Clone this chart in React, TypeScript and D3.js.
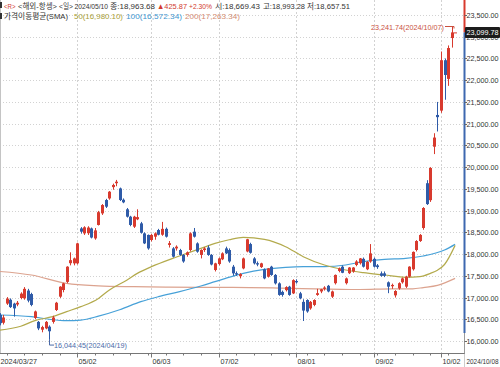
import { useEffect, useRef } from 'react';
import * as d3 from 'd3';

// daily candles, 2024/03/27 .. 2024/10/08 (one bar per trading day)
const opens = [
  16600, 16420, 16860, 16950, 16860, 16840, 16990, 16980, 17160, 17080,
  16530, 16440, 16260, 16290, 16330, 16440, 16713, 17020, 17173, 17360,
  17790, 17786, 17786, 18590, 18476, 18480, 18590, 18360, 18669.43, 18936,
  19243, 19280, 19540, 19630, 19510, 19250, 19030, 18860, 18630, 18800,
  18706, 18476, 18440, 18323, 18400, 18553, 18445, 18580, 18210, 18130,
  18130, 18093, 17980, 17980, 18093, 18515, 18246, 17980, 18093, 18150,
  17980, 17633, 17770, 17880, 18130, 18093, 17710, 17560, 17490, 17670,
  18060, 18230, 17900, 17790, 17700, 17650, 17480, 17710, 17520, 17326,
  17130, 17170, 17250, 17096, 17380, 17096, 16900, 16943, 16750, 16830,
  17060, 17140, 17200, 17270, 17020, 17330, 17610, 17710, 17330, 17560,
  17600, 17750, 17790, 17890, 17650, 17830, 17890, 17740, 17556, 17556,
  17350, 17260, 17050, 17210, 17350, 17250, 17480, 17650, 18093, 18300,
  18600, 19630, 19240, 20470, 21200, 21300, 22460, 22030, 22970, 23099.78,
];
const highs = [
  16640, 16600, 17010, 16980, 16880, 16920, 17120, 17240, 17200, 17110,
  16700, 16460, 16350, 16460, 16360, 16580, 16900, 17260, 17340, 17720,
  18040, 17920, 18260, 18620, 18640, 18640, 18610, 18600, 18993.28, 19150,
  19270, 19450, 19620, 19706, 19530, 19280, 19060, 18880, 18880, 19030,
  18740, 18500, 18450, 18460, 18500, 18580, 18740, 18610, 18300, 18160,
  18200, 18120, 18000, 18060, 18500, 18600, 18270, 18110, 18160, 18200,
  18000, 17800, 17920, 18040, 18170, 18130, 17750, 17600, 17560, 17920,
  18350, 18260, 17930, 17830, 17800, 17670, 17680, 17730, 17540, 17350,
  17160, 17260, 17270, 17420, 17420, 17130, 16960, 16960, 16920, 16960,
  17200, 17200, 17260, 17290, 17160, 17530, 17690, 17740, 17460, 17700,
  17700, 17860, 17910, 17920, 17840, 18230, 17920, 17770, 17600, 17600,
  17370, 17320, 17170, 17350, 17460, 17500, 17720, 18060, 18320, 18460,
  19080, 19700, 20000, 20780, 21500, 22660, 22500, 22800, 23241.74, 23099.78,
];
const lows = [
  16360, 16380, 16830, 16760, 16560, 16800, 16960, 16950, 16890, 16800,
  16500, 16250, 16200, 16270, 16044.45, 16400, 16690, 16990, 17120, 17330,
  17740, 17740, 17760, 18470, 18440, 18440, 18360, 18330, 18657.51, 18900,
  19060, 19250, 19480, 19560, 19220, 19170, 18840, 18640, 18600, 18780,
  18470, 18230, 18100, 18290, 18330, 18430, 18420, 18380, 18150, 17920,
  18080, 17960, 17800, 17940, 18060, 18380, 18030, 17900, 18050, 17960,
  17740, 17600, 17740, 17860, 18000, 17800, 17500, 17500, 17440, 17650,
  18040, 18010, 17760, 17720, 17680, 17420, 17460, 17500, 17300, 17040,
  17020, 17140, 17040, 17080, 17320, 16960, 16460, 16650, 16720, 16800,
  17040, 17100, 17160, 17120, 16990, 17300, 17580, 17560, 17300, 17540,
  17570, 17720, 17760, 17690, 17630, 17800, 17690, 17660, 17480, 17470,
  17100, 17200, 17000, 17180, 17320, 17220, 17460, 17620, 18060, 18280,
  18560, 19130, 19200, 20300, 20820, 21250, 21550, 21870, 22750, 23099.78,
];
const closes = [
  16410, 16541, 16975, 16780, 16750, 16880, 17090, 17200, 16930, 16830,
  16680, 16290, 16320, 16440, 16224, 16540, 16880, 17250, 17326, 17710,
  17860, 17900, 18246, 18515, 18616, 18610, 18380, 18545, 18963.68, 19128,
  19090, 19435, 19590, 19665, 19243, 19190, 18860, 18670, 18860, 18850,
  18490, 18246, 18130, 18440, 18476, 18445, 18580, 18400, 18250, 17940,
  18170, 17980, 17830, 18040, 18476, 18400, 18055, 18093, 18130, 17980,
  17760, 17786, 17900, 18016, 18016, 17830, 17556, 17530, 17540, 17900,
  18340, 18030, 17786, 17760, 17786, 17440, 17670, 17520, 17326, 17060,
  17060, 17240, 17060, 17400, 17350, 16980, 16700, 16680, 16900, 16943,
  17100, 17190, 17230, 17140, 17140, 17520, 17670, 17570, 17440, 17690,
  17690, 17830, 17900, 17710, 17820, 18016, 17710, 17700, 17500, 17500,
  17250, 17290, 17150, 17330, 17440, 17480, 17710, 18050, 18300, 18440,
  19060, 19150, 19980, 20680, 21150, 22460, 22120, 22740, 23099.78, 23099.78,
];

// moving averages (bar index, value)
const ma50Idx = [0, 6, 10, 15, 19, 23, 28, 31, 36, 39, 43, 49, 53, 57, 61, 65, 69, 75, 81, 86, 92, 98, 103, 109, 115, 119, 122, 124, 126, 129];
const ma50Val = [16250, 16340, 16470, 16560, 16675, 16790, 16980, 17170, 17400, 17556, 17710, 17900, 18016, 18130, 18246, 18330, 18384, 18338, 18170, 17940, 17748, 17633, 17572, 17518, 17465, 17480, 17556, 17630, 17760, 18200];
const ma100Idx = [0, 9, 14, 19, 23, 28, 34, 40, 45, 51, 57, 61, 64, 69, 75, 81, 86, 92, 98, 103, 109, 115, 120, 126, 129];
const ma100Val = [16598, 16560, 16500, 16467, 16480, 16572, 16720, 16905, 17020, 17135, 17265, 17365, 17440, 17556, 17648, 17694, 17710, 17710, 17748, 17825, 17878, 17900, 17955, 18093, 18223];
const ma200Idx = [0, 9, 19, 28, 38, 47, 57, 66, 83, 102, 111, 117, 120, 124, 129];
const ma200Val = [17600, 17518, 17326, 17270, 17250, 17240, 17234, 17234, 17211, 17185, 17200, 17200, 17230, 17280, 17440];

const priceTicks = d3.range(16000, 23501, 500);
const monthTickIdx = [22, 43, 62, 84, 106, 125];
const monthTickLabels = ['05/02', '06/03', '07/02', '08/01', '09/02', '10/02'];
const firstDate = '2024/03/27';
const lastDate = '2024/10/08';
const highLabel = '23,241.74(2024/10/07)';
const lowLabel = '16,044.45(2024/04/19)';

const FONT = "'Liberation Sans', 'Noto Sans CJK KR', sans-serif";
const UP = '#d83a2e';
const DOWN = '#2f5ba8';

export default function App() {
  const svgRef = useRef<SVGSVGElement>(null);

  useEffect(() => {
    if (!svgRef.current) return;

    const width = 500;
    const height = 367;
    const axisX = 464.5;
    const axisY = 353.5;
    const n = closes.length;

    const svg = d3.select(svgRef.current);
    svg.selectAll('*').remove();
    svg.attr('width', width).attr('height', height).style('font-family', FONT);

    const x = d3.scaleLinear().domain([0, n - 1]).range([-0.4, 455.1]);
    const y = d3.scaleLinear().domain([16000, 23500]).range([341, 15]);

    svg.append('rect').attr('width', width).attr('height', height).attr('fill', '#fff');

    // grid
    svg.append('g')
      .selectAll('line')
      .data(priceTicks)
      .join('line')
      .attr('x1', 0)
      .attr('x2', axisX)
      .attr('y1', d => Math.round(y(d)) + 0.5)
      .attr('y2', d => Math.round(y(d)) + 0.5)
      .attr('stroke', '#d2d2d2')
      .attr('stroke-dasharray', '1,2');

    svg.append('g')
      .selectAll('line')
      .data(monthTickIdx)
      .join('line')
      .attr('x1', d => Math.round(x(d)) + 0.5)
      .attr('x2', d => Math.round(x(d)) + 0.5)
      .attr('y1', 0)
      .attr('y2', axisY)
      .attr('stroke', '#d2d2d2')
      .attr('stroke-dasharray', '2,2');

    svg.append('line')
      .attr('x1', 0.5).attr('x2', 0.5).attr('y1', 0).attr('y2', axisY)
      .attr('stroke', '#c4c4c4');

    // moving averages
    const maLine = (idx: number[], vals: number[], color: string) => {
      const line = d3.line<number>()
        .x((_, i) => x(idx[i]))
        .y(d => y(d))
        .curve(d3.curveMonotoneX);
      svg.append('path')
        .datum(vals)
        .attr('fill', 'none')
        .attr('stroke', color)
        .attr('stroke-width', 1.2)
        .attr('d', line);
    };
    maLine(ma200Idx, ma200Val, '#dca38f');
    maLine(ma100Idx, ma100Val, '#47a1d8');
    maLine(ma50Idx, ma50Val, '#b3aa4c');

    // candles
    const bars = d3.range(n);
    const col = (i: number) => (closes[i] >= opens[i] ? UP : DOWN);
    const cx = (i: number) => Math.round(x(i));

    svg.append('g')
      .selectAll('line')
      .data(bars)
      .join('line')
      .attr('x1', i => cx(i) + 0.5)
      .attr('x2', i => cx(i) + 0.5)
      .attr('y1', i => y(highs[i]))
      .attr('y2', i => y(lows[i]))
      .attr('stroke', col);

    svg.append('g')
      .selectAll('rect')
      .data(bars)
      .join('rect')
      .attr('x', i => cx(i) - 1)
      .attr('width', 3)
      .attr('y', i => y(Math.max(opens[i], closes[i])))
      .attr('height', i => Math.max(1, Math.abs(y(opens[i]) - y(closes[i]))))
      .attr('fill', col);

    // high / low markers
    const hi = d3.maxIndex(highs);
    const lo = d3.minIndex(lows);
    const hy = Math.round(y(highs[hi])) + 0.5;
    svg.append('path')
      .attr('d', `M${cx(hi) - 7},${hy}H${cx(hi) + 2}V${hy + 2}`)
      .attr('fill', 'none')
      .attr('stroke', '#c9503f');
    svg.append('text')
      .attr('x', cx(hi) - 8)
      .attr('y', hy + 3)
      .attr('text-anchor', 'end')
      .attr('font-size', 8)
      .attr('fill', '#c9503f')
      .attr('textLength', 73)
      .attr('lengthAdjust', 'spacingAndGlyphs')
      .text(highLabel);

    const ly = y(lows[lo]);
    svg.append('path')
      .attr('d', `M${cx(lo) + 0.5},${ly}V${ly + 6}H${cx(lo) + 5}`)
      .attr('fill', 'none')
      .attr('stroke', '#4a6aa8');
    svg.append('text')
      .attr('x', cx(lo) + 5)
      .attr('y', ly + 8.5)
      .attr('font-size', 8)
      .attr('fill', '#4a6aa8')
      .attr('textLength', 73)
      .attr('lengthAdjust', 'spacingAndGlyphs')
      .text(lowLabel);

    // right axis
    svg.append('line')
      .attr('x1', axisX).attr('x2', axisX).attr('y1', 0).attr('y2', height)
      .attr('stroke', '#9a9a9a');
    const last = closes[n - 1];
    svg.append('line')
      .attr('x1', axisX).attr('x2', axisX).attr('y1', 0).attr('y2', y(last))
      .attr('stroke', UP).attr('stroke-width', 2);
    svg.append('line')
      .attr('x1', axisX).attr('x2', axisX).attr('y1', y(last)).attr('y2', y(d3.min(lows) as number) - 6)
      .attr('stroke', '#3e68b0').attr('stroke-width', 2);

    const fmt = d3.format(',.2f');
    const yAxis = svg.append('g');
    yAxis.selectAll('line')
      .data(priceTicks)
      .join('line')
      .attr('x1', axisX).attr('x2', axisX + 2.5)
      .attr('y1', d => Math.round(y(d)) + 0.5)
      .attr('y2', d => Math.round(y(d)) + 0.5)
      .attr('stroke', '#666');
    yAxis.selectAll('text')
      .data(priceTicks)
      .join('text')
      .attr('x', 466.5)
      .attr('y', d => y(d) + 3)
      .attr('font-size', 7.5)
      .attr('fill', '#333')
      .attr('textLength', 32)
      .attr('lengthAdjust', 'spacingAndGlyphs')
      .text(d => fmt(d));

    const ly2 = y(last);
    svg.append('rect')
      .attr('x', 465).attr('y', ly2 - 5.5).attr('width', 35).attr('height', 11).attr('rx', 1)
      .attr('fill', '#1c1c1c');
    svg.append('text')
      .attr('x', 466.5).attr('y', ly2 + 3)
      .attr('font-size', 7.5).attr('fill', '#fff')
      .attr('textLength', 32).attr('lengthAdjust', 'spacingAndGlyphs')
      .text(fmt(last));

    // bottom axis
    svg.append('rect').attr('x', 0).attr('y', axisY + 0.5).attr('width', axisX).attr('height', height - axisY).attr('fill', '#fff');
    svg.append('line')
      .attr('x1', 0).attr('x2', axisX).attr('y1', axisY).attr('y2', axisY)
      .attr('stroke', '#777');
    svg.append('g')
      .selectAll('line')
      .data(d3.range(2, n, 5))
      .join('line')
      .attr('x1', i => cx(i) + 0.5).attr('x2', i => cx(i) + 0.5)
      .attr('y1', axisY).attr('y2', axisY + 2)
      .attr('stroke', '#777');
    svg.append('g')
      .selectAll('line')
      .data(monthTickIdx)
      .join('line')
      .attr('x1', i => Math.round(x(i)) + 0.5).attr('x2', i => Math.round(x(i)) + 0.5)
      .attr('y1', axisY).attr('y2', axisY + 4)
      .attr('stroke', '#777');

    const xLabel = (px: number, t: string, w: number) =>
      svg.append('text')
        .attr('x', px).attr('y', 363.5)
        .attr('font-size', 7.5).attr('fill', '#333')
        .attr('textLength', w).attr('lengthAdjust', 'spacingAndGlyphs')
        .text(t);
    xLabel(0.5, firstDate, 36.5);
    monthTickIdx.forEach((i, k) => xLabel(Math.round(x(i)) + 1.5, monthTickLabels[k], 18));
    xLabel(466.5, lastDate, 32);

    // header
    const head = (px: number, py: number, t: string, w: number, color: string) =>
      svg.append('text')
        .attr('x', px).attr('y', py)
        .attr('font-size', 8).attr('fill', color)
        .attr('textLength', w).attr('lengthAdjust', 'spacingAndGlyphs')
        .text(t);
    svg.append('rect').attr('x', 0).attr('y', 2).attr('width', 2).attr('height', 6).attr('fill', '#333');
    svg.append('rect').attr('x', 0).attr('y', 13).attr('width', 2).attr('height', 6).attr('fill', '#333');
    head(4, 8.5, '<R>', 11.5, '#d23a2e');
    head(18, 8.5, '<해외-항셍>', 39, '#333');
    head(59, 8.5, '<일>', 14, '#333');
    head(74.5, 8.5, '2024/05/10', 33.5, '#333');
    head(110, 8.5, '종:18,963.68', 45, '#333');
    head(157, 8.5, '▲425.87', 30, '#d23a2e');
    head(189, 8.5, '+2.30%', 23, '#d23a2e');
    head(215, 8.5, '시:18,669.43', 45, '#333');
    head(263, 8.5, '고:18,993.28', 42, '#333');
    head(307, 8.5, '저:18,657.51', 43, '#333');
    head(4, 19, '가격이동평균(SMA)', 64, '#333');
    head(74, 19, '50(16,980.10)', 49, '#a9a038');
    head(126, 19, '100(16,572.34)', 56, '#3f96cf');
    head(185, 19, '200(17,263.34)', 55, '#d38c72');
  }, []);

  return (
    <svg
      ref={svgRef}
      style={{ position: 'absolute', left: 0, top: 0, display: 'block' }}
    ></svg>
  );
}
